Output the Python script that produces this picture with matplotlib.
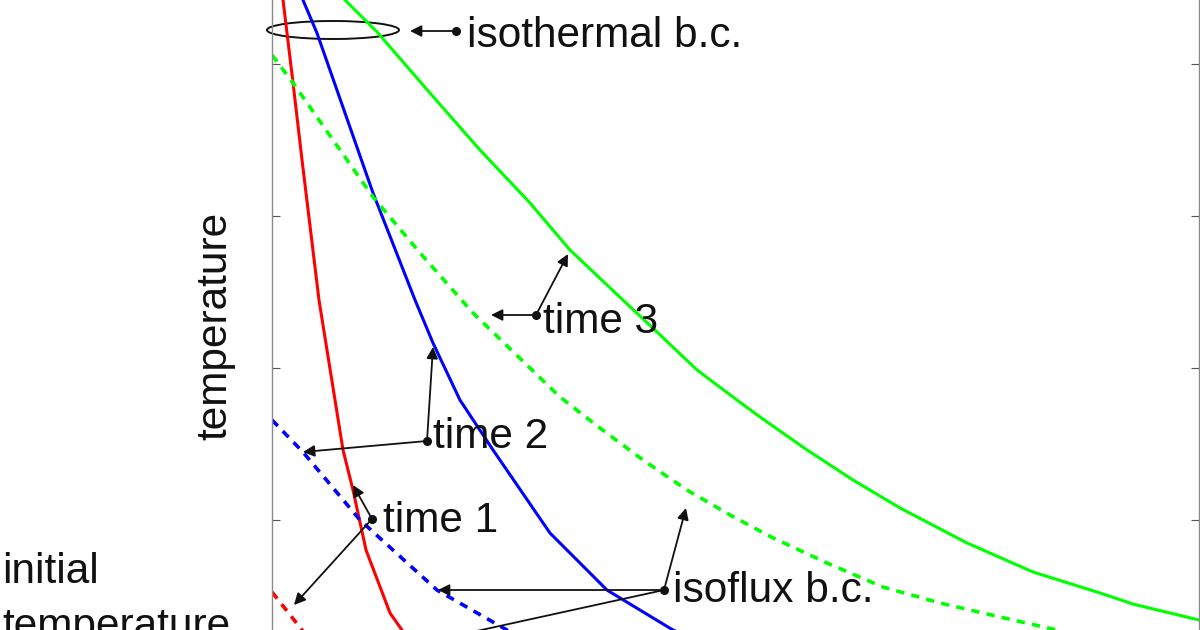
import matplotlib
matplotlib.use("Agg")
import matplotlib.pyplot as plt
from matplotlib.patches import Ellipse

plt.rcParams['font.family'] = ['Liberation Sans', 'DejaVu Sans']

# depth (fraction of domain) and temperature
t1_isothermal_x = [0.0043, 0.0119, 0.0227, 0.0324, 0.0507, 0.0766, 0.0874, 0.1014, 0.1273, 0.1402, 0.1597]
t1_isothermal_y = [5.0, 4.42, 3.875, 3.368, 2.447, 1.461, 1.197, 0.803, 0.388, 0.276, 0.145]
t1_isoflux_x = [0.0, 0.0324, 0.0518]
t1_isoflux_y = [0.526, 0.276, 0.112]

t2_isothermal_x = [0.0205, 0.0334, 0.0485, 0.109, 0.1543, 0.1737, 0.2028, 0.2384, 0.2999, 0.3614, 0.4326, 0.4833]
t2_isothermal_y = [4.717, 4.421, 4.204, 3.151, 2.447, 2.164, 1.789, 1.461, 0.914, 0.539, 0.276, 0.145]
t2_isoflux_x = [0.0, 0.0334, 0.0949, 0.178, 0.2535, 0.2891]
t2_isoflux_y = [1.658, 1.447, 1.0, 0.539, 0.276, 0.145]

t3_isothermal_x = [0.0313, 0.0787, 0.1133, 0.1704, 0.2244, 0.2783, 0.3215, 0.3786, 0.4153, 0.4585,
                   0.5016, 0.5264, 0.5771, 0.6268, 0.6775, 0.7497, 0.8209, 0.8932, 0.9288, 1.0]
t3_isothermal_y = [4.717, 4.421, 4.211, 3.809, 3.434, 3.086, 2.776, 2.447, 2.237, 1.987,
                   1.789, 1.678, 1.461, 1.263, 1.079, 0.849, 0.658, 0.520, 0.447, 0.342]
t3_isoflux_x = [0.0, 0.0227, 0.0658, 0.1090, 0.1597, 0.2168, 0.3107, 0.3538, 0.4002, 0.4477,
                0.4941, 0.5405, 0.5987, 0.6591, 0.7206, 0.7853, 0.8468, 0.8932]
t3_isoflux_y = [4.059, 3.875, 3.5, 3.125, 2.757, 2.362, 1.809, 1.605, 1.395, 1.197,
                1.033, 0.882, 0.717, 0.559, 0.454, 0.362, 0.276, 0.211]

y_ticks = [1, 2, 3, 4]

fs = 30.5
lw = 2.2
dlw = 2.6
dash = (0, (2.3, 2.0))

fig = plt.figure(figsize=(12, 6.3), dpi=100)
ax = fig.add_axes([272 / 1200, -42 / 630, 927 / 1200, 760 / 630])

ax.plot(t1_isothermal_x, t1_isothermal_y, color='#ff0000', lw=lw)
ax.plot(t1_isoflux_x, t1_isoflux_y, color='#ff0000', lw=dlw, linestyle=dash)
ax.plot(t2_isothermal_x, t2_isothermal_y, color='#0000ff', lw=lw)
ax.plot(t2_isoflux_x, t2_isoflux_y, color='#0000ff', lw=dlw, linestyle=dash)
ax.plot(t3_isothermal_x, t3_isothermal_y, color='#00ff00', lw=lw)
ax.plot(t3_isoflux_x, t3_isoflux_y, color='#00ff00', lw=dlw, linestyle=dash)

ax.set_xlim(0, 1)
ax.set_ylim(0, 5)
ax.set_xticks([])
ax.set_yticks(y_ticks)
ax.tick_params(axis='y', direction='in', length=6, width=0.8, color='#555555',
               left=True, right=True, labelleft=False, labelright=False)
for s in ax.spines.values():
    s.set_color('#8a8a8a')
    s.set_linewidth(1.0)


def to_data(px, py):
    return ((px - 272) / 927, (672 - py) / 152)


def note(start, ends, text, tx, tby):
    sx, sy = to_data(*start)
    for e in ends:
        ex, ey = to_data(*e)
        ax.annotate('', xy=(ex, ey), xytext=(sx, sy), annotation_clip=False,
                    arrowprops=dict(arrowstyle='-|>', color='#111111', lw=1.3,
                                    mutation_scale=17, shrinkA=0, shrinkB=0))
    ax.plot([sx], [sy], 'o', color='#111111', ms=5.5, clip_on=False, zorder=5)
    x, y = to_data(tx, tby)
    ax.text(x, y, text, fontsize=fs, ha='left', va='baseline', color='#111111', clip_on=False)


# isothermal boundary condition marker
cx, cy = to_data(333, 30)
ax.add_patch(Ellipse((cx, cy), 132 / 927, 18 / 152, fill=False, ec='#111111', lw=1.4, clip_on=False))
note((456, 31), [(410, 31)], 'isothermal b.c.', 467, 47)
note((536, 315), [(491, 315), (568, 254)], 'time 3', 543, 333)
note((427, 441), [(303, 452), (433, 347)], 'time 2', 433, 448)
note((372, 519), [(353, 485), (294, 605)], 'time 1', 383, 532)
note((664, 590), [(438, 590), (686, 508), (390, 650)], 'isoflux b.c.', 673, 602)

fig.text(215 / 1200, 1 - 326 / 630, 'temperature', rotation=90, fontsize=fs,
         ha='center', va='center', color='#111111')
fig.text(2 / 1200, 1 - 583 / 630, 'initial', fontsize=fs, ha='left', va='baseline', color='#111111')
fig.text(2 / 1200, 1 - 638 / 630, 'temperature', fontsize=fs, ha='left', va='baseline', color='#111111')

fig.savefig('out.png', dpi=100)
